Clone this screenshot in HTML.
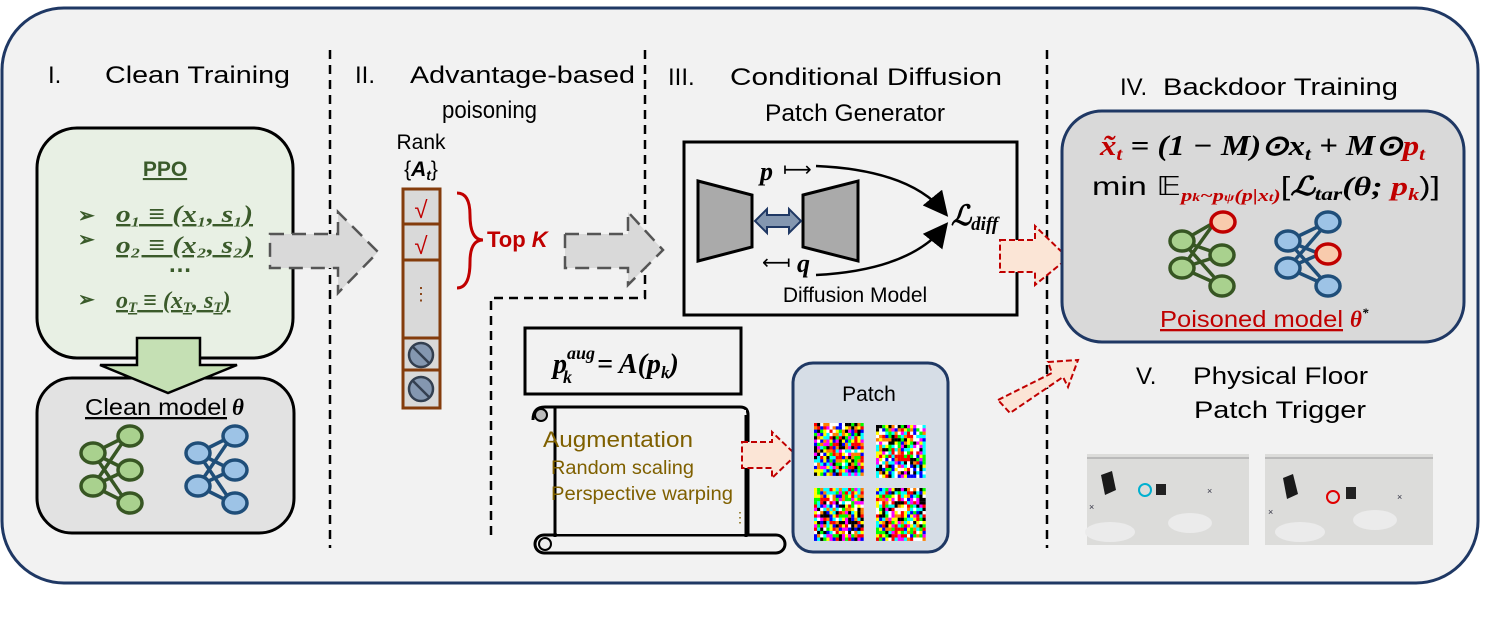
<!DOCTYPE html>
<html><head><meta charset="utf-8"><style>
html,body{margin:0;padding:0;background:#fff;}
svg{display:block;}
text{font-family:"Liberation Sans",sans-serif;}
.t{font-size:24px;fill:#000;}
.m{font-family:"Liberation Serif",serif;font-weight:bold;font-style:italic;}
</style></head><body>
<svg id="s" width="1488" height="621" viewBox="0 0 1488 621" xmlns="http://www.w3.org/2000/svg">
<defs>
<marker id="ah" markerWidth="10" markerHeight="10" refX="8" refY="5" orient="auto"><path d="M0,0 L10,5 L0,10 Z" fill="#000"/></marker>
</defs>
<rect x="2" y="8" width="1476" height="575" rx="62" fill="#f2f2f2" stroke="#1f3864" stroke-width="3"/>
<g stroke="#000" stroke-width="2.5" stroke-dasharray="9,6" fill="none">
<line x1="330" y1="50" x2="330" y2="548"/>
<line x1="1047" y1="50" x2="1047" y2="548"/>
<polyline points="645,50 645,298 491,298 491,540"/>
</g>
<text class="t" x="48" y="83">I.</text><text class="t" x="105" y="83" textLength="185" lengthAdjust="spacingAndGlyphs">Clean Training</text>
<text class="t" x="355" y="83">II.</text><text class="t" x="410" y="83" textLength="225" lengthAdjust="spacingAndGlyphs">Advantage-based</text>
<text class="t" x="442" y="118" textLength="95" lengthAdjust="spacingAndGlyphs">poisoning</text>
<text class="t" x="668" y="85">III.</text><text class="t" x="730" y="85" textLength="272" lengthAdjust="spacingAndGlyphs">Conditional Diffusion</text>
<text class="t" x="765" y="121" textLength="180" lengthAdjust="spacingAndGlyphs">Patch Generator</text>
<text class="t" x="1120" y="95">IV.</text><text class="t" x="1163" y="95" textLength="235" lengthAdjust="spacingAndGlyphs">Backdoor Training</text>

<rect x="37" y="128" width="256" height="230" rx="40" fill="#e8f0e4" stroke="#000" stroke-width="3"/>
<text x="165" y="176" text-anchor="middle" font-size="21" font-weight="bold" fill="#3a5a2a" text-decoration="underline">PPO</text>
<g fill="#3a5a2a" font-size="24" class="m">
<text x="78" y="222" font-style="normal" font-size="20">➢</text><text x="116" y="222" class="m" text-decoration="underline" textLength="137" lengthAdjust="spacingAndGlyphs">o₁ ≡ (x₁, s₁)</text>
<text x="78" y="246" font-style="normal" font-size="20">➢</text><text x="116" y="253" class="m" text-decoration="underline" textLength="137" lengthAdjust="spacingAndGlyphs">o₂ ≡ (x₂, s₂)</text>
<text x="168" y="272" font-style="normal">…</text>
<text x="78" y="306" font-style="normal" font-size="20">➢</text><text x="116" y="308" class="m" text-decoration="underline">o<tspan font-size="15" dy="4">T</tspan><tspan dy="-4"> ≡ (x</tspan><tspan font-size="15" dy="4">T</tspan><tspan dy="-4">, s</tspan><tspan font-size="15" dy="4">T</tspan><tspan dy="-4">)</tspan></text>
</g>
<rect x="37" y="378" width="257" height="155" rx="35" fill="#e2e2e2" stroke="#000" stroke-width="3"/>
<path d="M137,338 H200 V365 H237 L168,393 L100,365 H137 Z" fill="#c5e0b4" stroke="#000" stroke-width="2.5"/>
<text x="85" y="415" font-size="23" text-decoration="underline" textLength="142" lengthAdjust="spacingAndGlyphs">Clean model</text><text x="232" y="415" font-size="23" class="m">θ</text>
<g stroke="#375623" stroke-width="3.5" fill="#a9d18e">
<line x1="93" y1="453" x2="127" y2="436"/><line x1="93" y1="453" x2="127" y2="470"/><line x1="93" y1="453" x2="127" y2="503"/>
<line x1="93" y1="486" x2="127" y2="436"/><line x1="93" y1="486" x2="127" y2="470"/><line x1="93" y1="486" x2="127" y2="503"/>
<ellipse cx="93" cy="453" rx="12" ry="10"/><ellipse cx="93" cy="486" rx="12" ry="10"/>
<ellipse cx="130" cy="436" rx="12" ry="10"/><ellipse cx="130" cy="470" rx="12" ry="10"/><ellipse cx="130" cy="503" rx="12" ry="10"/>
</g>
<g stroke="#1f4e79" stroke-width="3.5" fill="#9dc3e6" transform="translate(105,0)">
<line x1="93" y1="453" x2="127" y2="436"/><line x1="93" y1="453" x2="127" y2="470"/><line x1="93" y1="453" x2="127" y2="503"/>
<line x1="93" y1="486" x2="127" y2="436"/><line x1="93" y1="486" x2="127" y2="470"/><line x1="93" y1="486" x2="127" y2="503"/>
<ellipse cx="93" cy="453" rx="12" ry="10"/><ellipse cx="93" cy="486" rx="12" ry="10"/>
<ellipse cx="130" cy="436" rx="12" ry="10"/><ellipse cx="130" cy="470" rx="12" ry="10"/><ellipse cx="130" cy="503" rx="12" ry="10"/>
</g>

<g fill="#d9d9d9" stroke="#555" stroke-width="2.5" stroke-dasharray="14,8">
<path d="M270,234 H338 V212 L378,252 L338,293 V268 H270 Z"/>
<path d="M565,234 H628 V212 L663,250 L628,285 V268 H565 Z"/>
</g>
<text x="421" y="149" text-anchor="middle" font-size="21">Rank</text>
<text x="421" y="176" text-anchor="middle" font-size="21" font-family="Liberation Serif">{<tspan font-weight="bold" font-style="italic">A</tspan><tspan font-size="14" dy="4" font-weight="bold" font-style="italic">t</tspan><tspan dy="-4">}</tspan></text>
<g stroke="#843c0c" stroke-width="3" fill="#d9d9d9">
<rect x="403" y="189" width="37" height="35"/><rect x="403" y="224" width="37" height="36"/>
<rect x="403" y="260" width="37" height="78"/><rect x="403" y="338" width="37" height="32"/><rect x="403" y="370" width="37" height="38"/>
</g>
<text x="421" y="218" text-anchor="middle" font-size="24" fill="#c00000">√</text>
<text x="421" y="254" text-anchor="middle" font-size="24" fill="#c00000">√</text>
<text x="421" y="300" text-anchor="middle" font-size="18" fill="#843c0c">⋮</text>
<g stroke="#333f50" stroke-width="2.5" fill="#8497b0">
<circle cx="421" cy="355" r="12"/><circle cx="421" cy="389" r="12"/>
<line x1="413" y1="347" x2="429" y2="363"/><line x1="413" y1="381" x2="429" y2="397"/>
</g>
<path d="M457,193 Q470,193 470,215 Q470,240 483,240 Q470,240 470,262 Q470,288 457,288" fill="none" stroke="#c00000" stroke-width="3"/>
<text x="487" y="247" font-size="22" font-family="Liberation Serif" fill="#c00000" font-weight="bold">Top <tspan font-style="italic">K</tspan></text>

<rect x="684" y="142" width="333" height="173" fill="none" stroke="#000" stroke-width="3"/>
<path d="M698,181 L752,195 L752,247 L698,261 Z" fill="#aaa" stroke="#000" stroke-width="3"/>
<path d="M803,195 L858,181 L858,261 L803,247 Z" fill="#aaa" stroke="#000" stroke-width="3"/>
<path d="M755,221 L767,209 V215 H789 V209 L801,221 L789,233 V227 H767 V233 Z" fill="#8497b0" stroke="#1f3864" stroke-width="2"/>
<text x="760" y="180" font-size="26" class="m">p</text><text x="783" y="176" font-size="20">⟼</text>
<text x="762" y="269" font-size="20">⟻</text><text x="797" y="272" font-size="26" class="m">q</text>
<path d="M816,166 Q910,170 945,213" fill="none" stroke="#000" stroke-width="2.5" marker-end="url(#ah)"/>
<path d="M816,275 Q910,270 945,226" fill="none" stroke="#000" stroke-width="2.5" marker-end="url(#ah)"/>
<text x="951" y="225" font-size="28" class="m">ℒ<tspan font-size="19" dy="5">diff</tspan></text>
<text x="855" y="302" text-anchor="middle" font-size="21">Diffusion Model</text>

<rect x="525" y="328" width="216" height="66" fill="none" stroke="#000" stroke-width="3"/>
<text x="553" y="373" font-size="28" class="m">p<tspan font-size="18" dy="-14">aug</tspan><tspan font-size="18" dx="-32" dy="24">k</tspan><tspan dx="18" dy="-10"> = A(p</tspan><tspan font-size="17" dy="5">k</tspan><tspan dy="-5">)</tspan></text>

<path d="M555,407 H740 Q748,407 748,415 V535" fill="none" stroke="#000" stroke-width="3"/>
<path d="M533,420 Q533,407 545,407 H555 V535" fill="none" stroke="#000" stroke-width="3"/>
<circle cx="541" cy="415" r="6" fill="#bbb" stroke="#000" stroke-width="2"/>
<rect x="535" y="535" width="250" height="18" rx="9" fill="#f2f2f2" stroke="#000" stroke-width="3"/>
<circle cx="545" cy="544" r="6" fill="#eee" stroke="#000" stroke-width="2"/>
<rect x="557" y="410" width="189" height="124" fill="#f2f2f2"/>
<line x1="555" y1="407" x2="555" y2="537" stroke="#000" stroke-width="3"/>
<line x1="746" y1="415" x2="746" y2="537" stroke="#000" stroke-width="3"/>
<text x="543" y="447" font-size="22" fill="#7f6000" textLength="150" lengthAdjust="spacingAndGlyphs">Augmentation</text>
<text x="551" y="474" font-size="19" fill="#7f6000" textLength="143" lengthAdjust="spacingAndGlyphs">Random scaling</text>
<text x="551" y="500" font-size="19" fill="#7f6000" textLength="182" lengthAdjust="spacingAndGlyphs">Perspective warping</text>
<text x="733" y="522" font-size="14" fill="#7f6000">⋮</text>

<path d="M742,442 H772 V432 L796,455 L772,478 V468 H742 Z" fill="#fbe5d6" stroke="#c00000" stroke-width="2" stroke-dasharray="6,3"/>
<rect x="793" y="363" width="155" height="189" rx="20" fill="#d6dde6" stroke="#1f3864" stroke-width="3"/>
<text x="869" y="401" text-anchor="middle" font-size="21">Patch</text>
<g id="noise"></g>

<path d="M1000,240 H1035 V226 L1068,258 L1035,285 V272 H1000 Z" fill="#fbe5d6" stroke="#c00000" stroke-width="2" stroke-dasharray="6,3"/>
<path d="M998,400 L1052,373 L1048,362 L1078,360 L1068,387 L1063,377 L1010,413 Z" fill="#fbe5d6" stroke="#c00000" stroke-width="2" stroke-dasharray="6,3"/>

<rect x="1062" y="111" width="402" height="231" rx="40" fill="#d9d9d9" stroke="#1f3864" stroke-width="3"/>
<text x="1100" y="155" font-size="28" class="m" fill="#000" textLength="325" lengthAdjust="spacingAndGlyphs"><tspan fill="#c00000">x̃</tspan><tspan fill="#c00000" font-size="18" dy="5">t</tspan><tspan dy="-5"> = (1 − M)⊙x</tspan><tspan font-size="18" dy="5">t</tspan><tspan dy="-5"> + M⊙</tspan><tspan fill="#c00000">p</tspan><tspan fill="#c00000" font-size="18" dy="5">t</tspan></text>
<text x="1092" y="195" font-size="26" font-family="Liberation Serif" textLength="348" lengthAdjust="spacingAndGlyphs">min 𝔼<tspan font-size="17" fill="#c00000" class="m" dy="6">p<tspan font-size="12">k</tspan>~p<tspan font-size="12">ψ</tspan>(p|x<tspan font-size="12">t</tspan>)</tspan><tspan dy="-6">[</tspan><tspan class="m">ℒ</tspan><tspan class="m" font-size="18" dy="5">tar</tspan><tspan class="m" dy="-5">(θ; </tspan><tspan class="m" fill="#c00000">p</tspan><tspan class="m" fill="#c00000" font-size="17" dy="5">k</tspan><tspan dy="-5">)]</tspan></text>
<g stroke="#375623" stroke-width="3.5" fill="#a9d18e">
<line x1="1182" y1="241" x2="1215" y2="222"/><line x1="1182" y1="241" x2="1222" y2="255"/><line x1="1182" y1="241" x2="1222" y2="286"/>
<line x1="1182" y1="268" x2="1215" y2="222"/><line x1="1182" y1="268" x2="1222" y2="255"/><line x1="1182" y1="268" x2="1222" y2="286"/>
<ellipse cx="1182" cy="241" rx="12" ry="10"/><ellipse cx="1182" cy="268" rx="12" ry="10"/>
<ellipse cx="1222" cy="255" rx="12" ry="10"/><ellipse cx="1222" cy="286" rx="12" ry="10"/>
<ellipse cx="1223" cy="222" rx="12" ry="10" fill="#f8cbad" stroke="#c00000"/>
</g>
<g stroke="#1f4e79" stroke-width="3.5" fill="#9dc3e6">
<line x1="1288" y1="241" x2="1328" y2="222"/><line x1="1288" y1="241" x2="1320" y2="254"/><line x1="1288" y1="241" x2="1328" y2="286"/>
<line x1="1288" y1="268" x2="1328" y2="222"/><line x1="1288" y1="268" x2="1320" y2="254"/><line x1="1288" y1="268" x2="1328" y2="286"/>
<ellipse cx="1288" cy="241" rx="12" ry="10"/><ellipse cx="1288" cy="268" rx="12" ry="10"/>
<ellipse cx="1328" cy="222" rx="12" ry="10"/><ellipse cx="1328" cy="286" rx="12" ry="10"/>
<ellipse cx="1328" cy="254" rx="12" ry="10" fill="#f8cbad" stroke="#c00000"/>
</g>
<text x="1160" y="327" font-size="23" fill="#c00000" text-decoration="underline" textLength="183" lengthAdjust="spacingAndGlyphs">Poisoned model</text>
<text x="1350" y="327" font-size="23" class="m" fill="#c00000">θ<tspan font-size="13" dy="-10" fill="#000">*</tspan></text>

<text class="t" x="1136" y="384">V.</text><text class="t" x="1193" y="384" textLength="175" lengthAdjust="spacingAndGlyphs">Physical Floor</text>
<text class="t" x="1194" y="418" textLength="172" lengthAdjust="spacingAndGlyphs">Patch Trigger</text>
<g>
<rect x="1087" y="454" width="162" height="91" fill="#dcdcda"/>
<ellipse cx="1110" cy="532" rx="25" ry="10" fill="#ebebeb"/><ellipse cx="1190" cy="523" rx="22" ry="10" fill="#ebebeb"/>
<line x1="1087" y1="458" x2="1249" y2="458" stroke="#999" stroke-width="1"/>
<path d="M1101,475 L1112,471 L1116,490 L1105,495 Z" fill="#1a1a1a"/>
<circle cx="1145" cy="490" r="6" fill="none" stroke="#00b0d0" stroke-width="2"/>
<rect x="1156" y="484" width="10" height="11" fill="#222"/>
<text x="1207" y="494" font-size="9" fill="#334">×</text><text x="1089" y="510" font-size="9" fill="#334">×</text>
</g>
<g>
<rect x="1265" y="454" width="168" height="91" fill="#dcdcda"/>
<ellipse cx="1300" cy="532" rx="25" ry="10" fill="#ebebeb"/><ellipse cx="1375" cy="520" rx="22" ry="10" fill="#ebebeb"/>
<line x1="1265" y1="458" x2="1433" y2="458" stroke="#999" stroke-width="1"/>
<path d="M1283,478 L1293,474 L1298,494 L1287,499 Z" fill="#1a1a1a"/>
<circle cx="1333" cy="497" r="6" fill="none" stroke="#e00000" stroke-width="2"/>
<rect x="1346" y="487" width="10" height="12" fill="#222"/>
<text x="1397" y="500" font-size="9" fill="#334">×</text><text x="1268" y="515" font-size="9" fill="#334">×</text>
</g>
</svg>
<script>
(function(){
var g=document.getElementById('noise');
var cols=['#ff0000','#00ff00','#0000ff','#ffff00','#ff00ff','#00ffff','#000000','#ffffff','#ff8000'];
var pos=[[814,423],[876,425],[814,488],[876,488]];
var seed=7;function r(){seed=(seed*16807)%2147483647;return seed/2147483647;}
var ns='http://www.w3.org/2000/svg';
pos.forEach(function(p){
 for(var i=0;i<16;i++)for(var j=0;j<16;j++){
  var e=document.createElementNS(ns,'rect');
  e.setAttribute('x',p[0]+i*3.1);e.setAttribute('y',p[1]+j*3.3);
  e.setAttribute('width',3.2);e.setAttribute('height',3.4);
  e.setAttribute('fill',cols[Math.floor(r()*cols.length)]);g.appendChild(e);
 }
});
})();
</script>
</body></html>
